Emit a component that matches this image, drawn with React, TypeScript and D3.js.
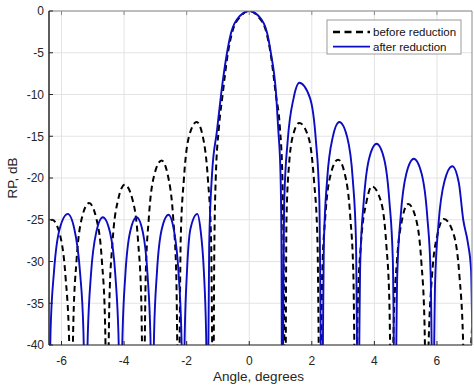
import React from 'react'
import * as d3 from 'd3'

// RP curves, [angle in degrees, level in dB]
// values below -40 dB are off the axes and get clipped
const beforeReduction: [number, number][] = [
  [-6.9, -50], [-6.83, -39.0], [-6.72, -31.9], [-6.54, -26.8], [-6.3, -25.0], [-6.05, -26.8], [-5.87, -31.9], [-5.76, -39.0],
  [-5.69, -50], [-5.62, -37.0], [-5.52, -29.9], [-5.35, -24.8], [-5.12, -23.0], [-4.89, -24.8], [-4.71, -29.9], [-4.61, -37.0],
  [-4.54, -50], [-4.47, -34.8], [-4.37, -27.7], [-4.19, -22.6], [-3.98, -20.8], [-3.73, -22.6], [-3.55, -27.7], [-3.45, -34.8],
  [-3.38, -50], [-3.31, -31.9], [-3.21, -24.8], [-3.04, -19.7], [-2.8, -17.9], [-2.6, -19.7], [-2.43, -24.8], [-2.33, -31.9],
  [-2.26, -50], [-2.19, -27.3], [-2.09, -20.2], [-1.93, -15.1], [-1.68, -13.3], [-1.48, -15.1], [-1.32, -20.2], [-1.22, -27.3],
  [-1.15, -50], [-1.12, -30], [-1.07, -20], [-0.97, -14], [-0.85, -10], [-0.68, -5], [-0.55, -2.6], [-0.29, -0.7],
  [0, 0], [0.29, -0.7], [0.55, -2.6], [0.68, -5], [0.85, -10], [0.98, -14], [1.06, -20], [1.1, -30],
  [1.15, -50], [1.19, -25], [1.27, -18.5], [1.42, -14.6], [1.6, -13.4], [1.9, -15.2], [2.07, -20.3], [2.18, -27.4],
  [2.26, -50], [2.33, -31.8], [2.43, -24.7], [2.6, -19.6], [2.84, -17.8], [3.06, -19.6], [3.23, -24.7], [3.33, -31.8],
  [3.4, -50], [3.47, -35.0], [3.57, -27.9], [3.75, -22.8], [3.92, -21.0], [4.21, -22.8], [4.38, -27.9], [4.48, -35.0],
  [4.55, -50], [4.62, -37.1], [4.72, -30.0], [4.89, -24.9], [5.08, -23.1], [5.33, -24.9], [5.5, -30.0], [5.6, -37.1],
  [5.67, -50], [5.74, -38.9], [5.84, -31.8], [6.02, -26.7], [6.22, -24.9], [6.53, -26.7], [6.72, -31.8], [6.83, -38.9],
  [6.9, -50], [7.05, -43], [7.12, -38], [7.3, -31],
]

const afterReduction: [number, number][] = [
  [-6.42, -50], [-6.35, -38.3], [-6.24, -31.2], [-6.06, -26.1], [-5.8, -24.3], [-5.59, -26.1], [-5.41, -31.2], [-5.3, -38.3],
  [-5.23, -50], [-5.16, -38.7], [-5.06, -31.6], [-4.89, -26.5], [-4.68, -24.7], [-4.45, -26.5], [-4.28, -31.6], [-4.18, -38.7],
  [-4.11, -50], [-4.05, -38.7], [-3.96, -31.6], [-3.81, -26.5], [-3.6, -24.7], [-3.4, -26.5], [-3.25, -31.6], [-3.16, -38.7],
  [-3.1, -50], [-3.04, -38.4], [-2.95, -31.3], [-2.8, -26.2], [-2.58, -24.4], [-2.41, -26.2], [-2.26, -31.3], [-2.17, -38.4],
  [-2.11, -50], [-2.06, -38.3], [-1.99, -31.2], [-1.88, -26.1], [-1.66, -24.3], [-1.56, -26.1], [-1.45, -31.2], [-1.38, -38.3],
  [-1.33, -50], [-1.28, -28], [-1.19, -19.6], [-1.03, -14.3], [-0.9, -10], [-0.71, -5], [-0.58, -2.6], [-0.3, -0.6],
  [0, 0], [0.3, -0.6], [0.57, -2.6], [0.69, -5], [0.86, -10], [0.93, -14.3], [1.0, -19.6], [1.03, -28],
  [1.05, -50], [1.12, -22.6], [1.23, -15.5], [1.42, -10.4], [1.6, -8.6], [1.94, -10.4], [2.13, -15.5], [2.24, -22.6],
  [2.32, -50], [2.39, -27.3], [2.49, -20.2], [2.67, -15.1], [2.88, -13.3], [3.13, -15.1], [3.31, -20.2], [3.41, -27.3],
  [3.48, -50], [3.55, -29.9], [3.66, -22.8], [3.83, -17.7], [4.07, -15.9], [4.31, -17.7], [4.48, -22.8], [4.59, -29.9],
  [4.66, -50], [4.73, -31.7], [4.84, -24.6], [5.02, -19.5], [5.26, -17.7], [5.51, -19.5], [5.69, -24.6], [5.8, -31.7],
  [5.87, -50], [5.94, -32.6], [6.05, -25.5], [6.24, -20.4], [6.49, -18.6], [6.7, -20.6], [6.84, -25], [6.99, -27.8],
  [7.09, -31], [7.16, -50],
]

const xTicks = [-6, -4, -2, 0, 2, 4, 6]
const yTicks = [0, -5, -10, -15, -20, -25, -30, -35, -40]
const legendLabels = ['before reduction', 'after reduction']

const W = 474
const H = 386
const font = '"Liberation Sans", Arial, Helvetica, sans-serif'
const axisColor = '#262626'
const blue = '#0c0cc0'

export default function App() {
  const x = d3.scaleLinear().domain([-6.4, 7.12]).range([49, 472])
  const y = d3.scaleLinear().domain([-40, 0]).range([345, 11])
  const [x0, x1] = x.range()
  const [y0, y1] = y.range()

  const line = d3.line<[number, number]>()
    .x(d => x(d[0]))
    .y(d => y(d[1]))
    .curve(d3.curveMonotoneX)

  return (
    <svg width={W} height={H} style={{ position: 'absolute', left: 0, top: 0, background: '#fff' }}
      fontFamily={font}>
      <defs>
        <clipPath id="plotClip">
          <rect x={x0} y={y1} width={x1 - x0} height={y0 - y1} />
        </clipPath>
      </defs>

      {/* grid */}
      {xTicks.map(t => (
        <line key={'gx' + t} x1={x(t)} x2={x(t)} y1={y1} y2={y0} stroke="#e3e3e3" strokeWidth={1} />
      ))}
      {yTicks.map(t => (
        <line key={'gy' + t} x1={x0} x2={x1} y1={y(t)} y2={y(t)} stroke="#e3e3e3" strokeWidth={1} />
      ))}

      <g clipPath="url(#plotClip)" fill="none">
        <path d={line(beforeReduction) || ''} stroke="#000" strokeWidth={2} strokeDasharray="6,4" />
        <path d={line(afterReduction) || ''} stroke={blue} strokeWidth={1.9} />
      </g>

      {/* box + ticks */}
      <line x1={x0} x2={x1} y1={y1} y2={y1} stroke="#8a8a8a" strokeWidth={1} />
      <line x1={x1} x2={x1} y1={y1} y2={y0} stroke="#8a8a8a" strokeWidth={1} />
      <line x1={x0} x2={x1} y1={y0} y2={y0} stroke={axisColor} strokeWidth={1.2} />
      <line x1={x0} x2={x0} y1={y1} y2={y0} stroke={axisColor} strokeWidth={1.5} />
      {xTicks.map(t => (
        <g key={'tx' + t}>
          <line x1={x(t)} x2={x(t)} y1={y0} y2={y0 - 4} stroke={axisColor} />
          <line x1={x(t)} x2={x(t)} y1={y1} y2={y1 + 4} stroke="#8a8a8a" />
          <text x={x(t)} y={365} fontSize={12} fill={axisColor} textAnchor="middle">{t}</text>
        </g>
      ))}
      {yTicks.map(t => (
        <g key={'ty' + t}>
          <line x1={x0} x2={x0 + 4} y1={y(t)} y2={y(t)} stroke={axisColor} />
          <text x={44} y={y(t) + 4.3} fontSize={12} fill={axisColor} textAnchor="end">{t}</text>
        </g>
      ))}

      <text x={(x0 + x1) / 2 - 2} y={381} fontSize={13.5} fill={axisColor} textAnchor="middle">Angle, degrees</text>
      <text transform={`translate(17,${(y0 + y1) / 2}) rotate(-90)`} fontSize={13.5} fill={axisColor}
        textAnchor="middle">RP, dB</text>

      {/* legend */}
      <g>
        <rect x={327} y={20} width={134} height={34} fill="#fff" stroke="#9a9a9a" strokeWidth={1} />
        {legendLabels.map((label, i) => (
          <g key={label}>
            <line x1={333} x2={370} y1={32 + i * 14.7} y2={32 + i * 14.7}
              stroke={i === 0 ? '#000' : blue} strokeWidth={i === 0 ? 2.5 : 1.8}
              strokeDasharray={i === 0 ? '7,4.5' : undefined} />
            <text x={373} y={36 + i * 14.7} fontSize={11.5} fill="#111">{label}</text>
          </g>
        ))}
      </g>
    </svg>
  )
}
